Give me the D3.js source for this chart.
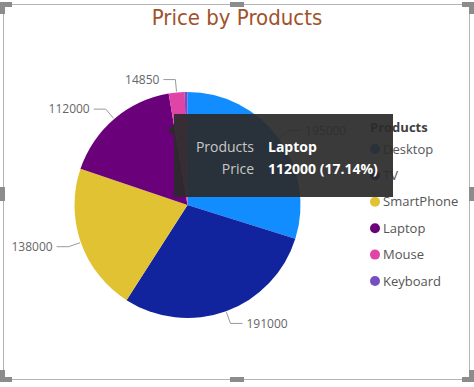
<!DOCTYPE html>
<html>
<head>
<meta charset="utf-8">
<script src="https://cdn.jsdelivr.net/npm/d3@7"></script>
<style>
  body { margin: 0; background: #fff; }
  svg { display: block; }
</style>
</head>
<body>
<svg id="chart" width="474" height="387"></svg>
<script>
// data
const products = ["Desktop", "TV", "SmartPhone", "Laptop", "Mouse", "Keyboard"];
const prices = [195000, 191000, 138000, 112000, 14850, 2600];
const sliceColors = ["#118DFF", "#12239E", "#E1C233", "#6B007B", "#E044A7", "#744EC2"];
const hovered = "Laptop";

var svg = d3.select("#chart");
var font = "'Segoe UI', 'Open Sans', sans-serif";

// visual frame + resize handles
svg.append("rect")
    .attr("x", 3.5).attr("y", 4.5)
    .attr("width", 466).attr("height", 375)
    .attr("fill", "none").attr("stroke", "#b4b4b4");

var handles = [
    [0, 2, 12, 5], [0, 2, 5, 12],          // top-left
    [462, 2, 12, 5], [469, 2, 5, 12],      // top-right
    [0, 377, 12, 5], [0, 370, 5, 12],      // bottom-left
    [462, 377, 12, 5], [469, 370, 5, 12],  // bottom-right
    [230, 2, 14, 5], [230, 377, 14, 5],    // mid top / bottom
    [0, 187, 5, 14], [469, 187, 5, 14]     // mid left / right
];
svg.selectAll(".handle").data(handles).enter().append("rect")
    .attr("class", "handle")
    .attr("x", d => d[0]).attr("y", d => d[1])
    .attr("width", d => d[2]).attr("height", d => d[3])
    .attr("fill", "#8c8c8c");

// title
svg.append("text")
    .attr("x", 237).attr("y", 25)
    .attr("text-anchor", "middle")
    .attr("font-family", "'DejaVu Sans Condensed', 'DejaVu Sans', sans-serif")
    .attr("font-size", 22)
    .attr("fill", "#A0522D")
    .text("Price by Products");

// pie
var cx = 187.5, cy = 205, radius = 113;
var data = products.map((p, i) => ({ name: p, value: prices[i], color: sliceColors[i] }));
var total = d3.sum(prices);

var pie = d3.pie().sort(null).value(d => d.value);
var arcs = pie(data);
var arc = d3.arc().innerRadius(0).outerRadius(radius);

var g = svg.append("g").attr("transform", "translate(" + cx + "," + cy + ")");

g.selectAll("path.slice").data(arcs).enter().append("path")
    .attr("class", "slice")
    .attr("d", arc)
    .attr("fill", d => d.data.color);

// data labels with leader lines (tiny slices get none)
var labelArcs = arcs.filter(d => d.data.value / total > 0.01);
var pt = (a, r) => [Math.sin(a) * r, -Math.cos(a) * r];

labelArcs.forEach(d => {
    var mid = (d.startAngle + d.endAngle) / 2;
    var p1 = pt(mid, radius + 1);
    var p2 = pt(mid, radius + 13);
    var right = p2[0] > 0;
    var p3 = [p2[0] + (right ? 12 : -12), p2[1]];
    g.append("path")
        .attr("d", d3.line()([p1, p2, p3]))
        .attr("fill", "none")
        .attr("stroke", "#999")
        .attr("stroke-width", 1);
    g.append("text")
        .attr("x", p3[0] + (right ? 4 : -4))
        .attr("y", p3[1])
        .attr("dy", "0.35em")
        .attr("text-anchor", right ? "start" : "end")
        .attr("font-family", font)
        .attr("font-size", 12)
        .attr("fill", "#666")
        .text(d.data.value);
});

// legend
var legend = svg.append("g").attr("transform", "translate(370,0)");
legend.append("text")
    .attr("x", 0).attr("y", 132)
    .attr("font-family", font)
    .attr("font-size", 13)
    .attr("font-weight", "bold")
    .attr("fill", "#404040")
    .text("Products");

var ly = d3.scalePoint().domain(products).range([149, 281]);
var items = legend.selectAll(".item").data(data).enter().append("g")
    .attr("class", "item")
    .attr("transform", d => "translate(0," + ly(d.name) + ")");
items.append("circle")
    .attr("cx", 5).attr("cy", 0).attr("r", 5)
    .attr("fill", d => d.color);
items.append("text")
    .attr("x", 13).attr("y", 0).attr("dy", "0.35em")
    .attr("font-family", font)
    .attr("font-size", 13)
    .attr("fill", "#555")
    .text(d => d.name);

// tooltip for hovered slice
var hv = data.find(d => d.name === hovered);
var tip = svg.append("g").attr("transform", "translate(174,114)");
tip.append("path")
    .attr("d", "M0,0 H219 V83 H0 V22 L-6,16 L0,10 Z")
    .attr("fill", "#2b2b2b")
    .attr("fill-opacity", 0.93);
var rows = [["Products", hv.name], ["Price", hv.value + " (" + d3.format(".2%")(hv.value / total) + ")"]];
rows.forEach((r, i) => {
    tip.append("text")
        .attr("x", 80).attr("y", 38 + i * 22)
        .attr("text-anchor", "end")
        .attr("font-family", font)
        .attr("font-size", 14)
        .attr("fill", "#c8c8c8")
        .text(r[0]);
    tip.append("text")
        .attr("x", 94).attr("y", 38 + i * 22)
        .attr("font-family", font)
        .attr("font-size", 14)
        .attr("font-weight", "bold")
        .attr("fill", "#fff")
        .text(r[1]);
});
</script>
</body>
</html>
